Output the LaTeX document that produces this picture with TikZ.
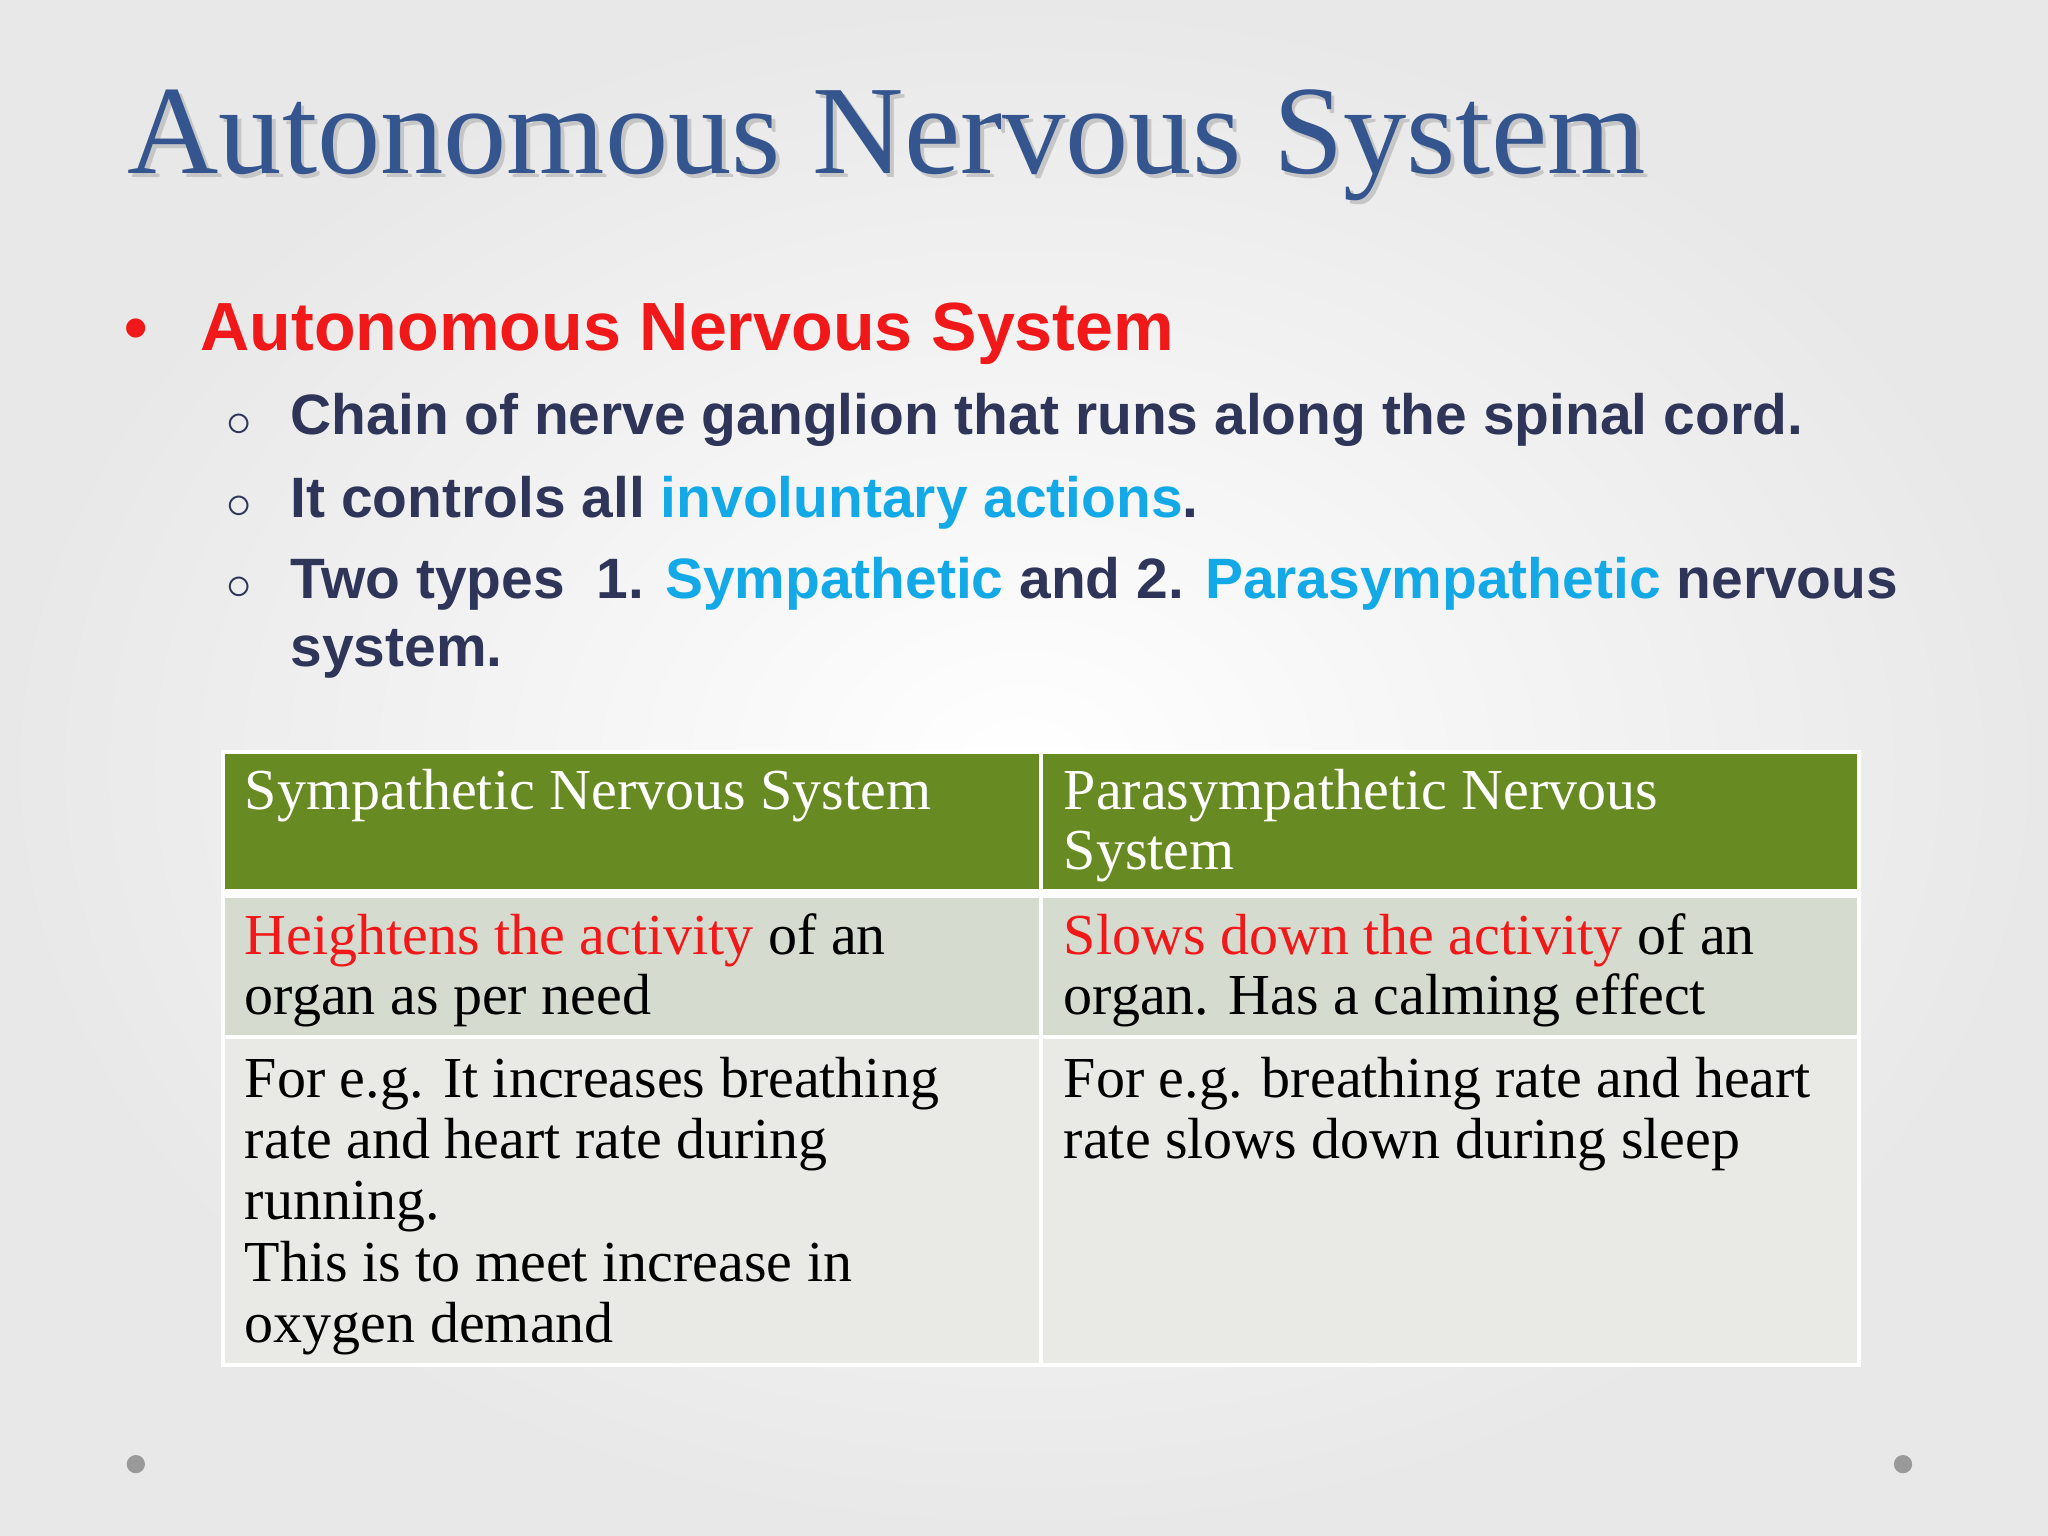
\documentclass[tikz,border=0pt]{standalone}
\usepackage{fontspec}
\setmainfont{Liberation Serif}
\newfontfamily\arialb{Liberation Sans}
\definecolor{ttl}{HTML}{35558F}
\definecolor{navy}{HTML}{2E3558}
\definecolor{cyn}{HTML}{12A9E6}
\definecolor{rd}{HTML}{F01818}
\definecolor{hdr}{HTML}{688A22}
\definecolor{rowa}{HTML}{D6DBCF}
\definecolor{rowb}{HTML}{E9EAE6}
\tikzset{
 tx/.style={anchor=base west,inner sep=0pt,font=\fontsize{16.5}{18}\selectfont},
 bl/.style={anchor=base west,inner sep=0pt,font=\arialb\bfseries\fontsize{16.2}{18}\selectfont,text=navy},
 cell/.style={draw=white,line width=1.2pt}
}
\begin{document}
\begin{tikzpicture}[x=0.013061cm,y=-0.013061cm]
\shade[inner color=white,outer color=gray!18] (0,0) rectangle (1568,1176);
\useasboundingbox (0,0) rectangle (1568,1176);
\node[anchor=base west,inner sep=0pt,font=\fontsize{36}{38}\selectfont,text=gray!45] at (100,136) {Autonomous Nervous System};
\node[anchor=base west,inner sep=0pt,font=\fontsize{36}{38}\selectfont,text=ttl] (title) at (97,133) {Autonomous Nervous System};
\node[anchor=base west,inner sep=0pt,text=rd,font=\arialb\bfseries\fontsize{19}{20}\selectfont] (b0) at (95,268) {•};
\node[anchor=base west,inner sep=0pt,text=rd,font=\arialb\bfseries\fontsize{19.4}{20}\selectfont] (h) at (153,268) {Autonomous Nervous System};
\foreach \y/\n in {334/c1,397/c2,459/c3}{\node[bl,font=\arialb\fontsize{14}{16}\selectfont] (\n) at (173,\y) {$\circ$};}
\node[bl] (s1) at (222,333) {Chain of nerve ganglion that runs along the spinal cord.};
\node[bl] (s2) at (222,396) {It controls all \textcolor{cyn}{involuntary actions}.};
\node[bl] (s3) at (222,458) {Two types\ \ 1. \textcolor{cyn}{Sympathetic} and 2. \textcolor{cyn}{Parasympathetic} nervous};
\node[bl] (s4) at (222,510) {system.};
% table
\fill[hdr,cell] (171,576) rectangle (797,684);
\fill[hdr,cell] (797,576) rectangle (1423,684);
\fill[rowa,cell] (171,684) rectangle (797,794);
\fill[rowa,cell] (797,684) rectangle (1423,794);
\fill[rowb,cell] (171,794) rectangle (797,1045);
\fill[rowb,cell] (797,794) rectangle (1423,1045);
\draw[white,line width=2.5pt] (171,684)--(1423,684);
\node[tx,text=white] (t1) at (187,620) {Sympathetic Nervous System};
\node[tx,text=white] (t2a) at (814,620) {Parasympathetic Nervous};
\node[tx,text=white] (t2b) at (814,666) {System};
\node[tx] (t3a) at (187,731) {\textcolor{rd}{Heightens the activity} of an};
\node[tx] (t3b) at (187,777) {organ as per need};
\node[tx] (t4a) at (814,731) {\textcolor{rd}{Slows down the activity} of an};
\node[tx] (t4b) at (814,777) {organ. Has a calming effect};
\node[tx] (t5a) at (187,840) {For e.g. It increases breathing};
\node[tx] (t5b) at (187,887) {rate and heart rate during};
\node[tx] (t5c) at (187,934) {running.};
\node[tx] (t5d) at (187,981) {This is to meet increase in};
\node[tx] (t5e) at (187,1028) {oxygen demand};
\node[tx] (t6a) at (814,840) {For e.g. breathing rate and heart};
\node[tx] (t6b) at (814,887) {rate slows down during sleep};
\fill[gray!80] (104,1121) circle (7);
\fill[gray!80] (1457,1121) circle (7);
\end{tikzpicture}
\end{document}
